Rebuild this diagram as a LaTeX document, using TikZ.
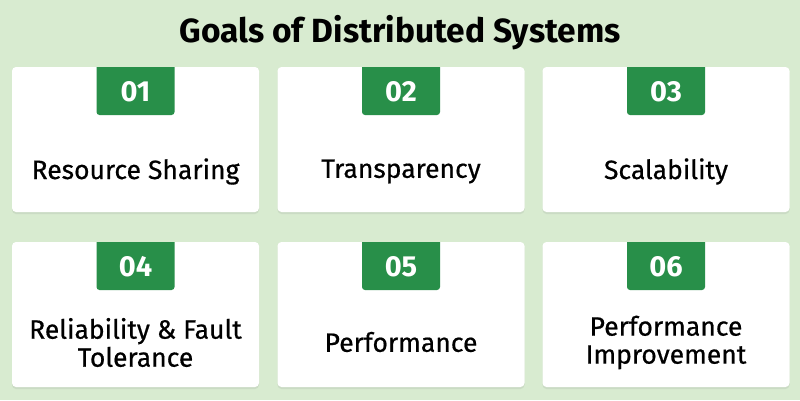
\documentclass[tikz,border=0pt]{standalone}
\usepackage{fontspec}
\setmainfont{Fira Sans}
\usetikzlibrary{shadows}
\definecolor{bg}{HTML}{D8EBD0}
\definecolor{tabg}{HTML}{288F49}
\tikzset{
  card/.style={fill=white, rounded corners=4pt, drop shadow={opacity=0.15,shadow xshift=0pt,shadow yshift=-2pt}},
  tab/.style={fill=tabg, rounded corners=3pt},
  num/.style={text=white, font=\fontsize{29}{30}\selectfont\bfseries},
  lbl/.style={font=\fontsize{26.5}{28}\selectfont\addfontfeature{FakeBold=0.6}, align=center, text=black},
}
\begin{document}
\begin{tikzpicture}[x=1pt,y=-1pt]
\fill[bg] (0,0) rectangle (800,400);
\useasboundingbox (0,0) rectangle (800,400);
\node[font=\fontsize{33.5}{36}\selectfont\bfseries] (title) at (400,33) {Goals of Distributed Systems};
\foreach \i/\cx/\cy/\dy/\t in {1/135.5/139.5/32/{Resource Sharing},2/401/139.5/32/{Transparency},3/666/139.5/32/{Scalability},
  4/135.5/314.5/28/{Reliability \& Fault\\Tolerance},5/401/314.5/27.5/{Performance},6/666/314.5/28/{Performance\\Improvement}}{
  \fill[card] (\cx-123.5,\cy-72.5) rectangle (\cx+123.5,\cy+72.5);
  \begin{scope}
    \clip (\cx-39,\cy-72.5) rectangle (\cx+39,\cy-24);
    \fill[tab] (\cx-39,\cy-80) rectangle (\cx+39,\cy-24.5);
  \end{scope}
  \node[num] (n\i) at (\cx,\cy-48) {0\i};
  \node[lbl] (l\i) at (\cx,\cy+\dy) {\t};
}
\end{tikzpicture}
\end{document}
